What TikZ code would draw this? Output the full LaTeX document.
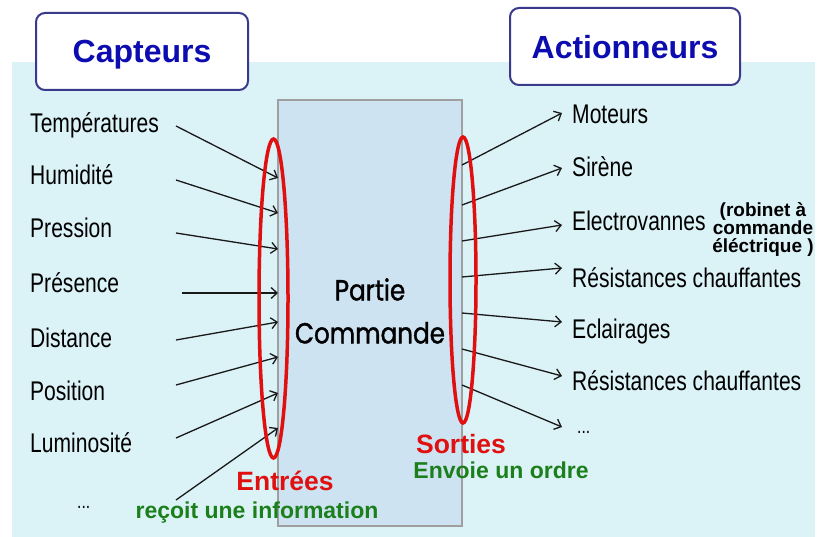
\documentclass[tikz,border=0pt]{standalone}
\usepackage{fontspec}
\setmainfont{Liberation Sans}
\newfontfamily\narrowfont[FakeStretch=0.78]{Liberation Sans}
\newfontfamily\pcfont[FakeStretch=0.85, FakeBold=1.3]{Poppins}
\usetikzlibrary{arrows.meta, positioning}
\definecolor{bgcyan}{HTML}{DBF2F7}
\definecolor{pcblue}{HTML}{CEE3F2}
\definecolor{boxblue}{HTML}{3A3A8C}
\definecolor{titleblue}{HTML}{0C0CB0}
\definecolor{ringred}{HTML}{E01010}
\definecolor{textgreen}{HTML}{1B7F1B}

\begin{document}
\begin{tikzpicture}[x=1pt, y=-1pt, >={Straight Barb[length=6pt,width=11pt]},
  title/.style={draw=boxblue, line width=2pt, rounded corners=9pt, fill=white, text=titleblue, text depth=0pt, font=\bfseries\fontsize{32}{36}\selectfont},
  item/.style={anchor=base west, inner sep=0pt, font=\narrowfont\fontsize{27}{30}\selectfont},
  flow/.style={->, line width=1.3pt, black!90},
  ring/.style={draw=ringred, line width=3.5pt},
  redlbl/.style={anchor=base, inner sep=0pt, text=ringred, font=\bfseries\fontsize{26.5}{30}\selectfont},
  greenlbl/.style={anchor=base, inner sep=0pt, text=textgreen, font=\bfseries\fontsize{23}{26}\selectfont}]

  \useasboundingbox (0,0) rectangle (829,537);
  % background
  \fill[bgcyan] (12,62) rectangle (815,537);

  % titles
  \node[title, minimum width=212pt, minimum height=77pt] (capteurs) at (142,51.5) {Capteurs};
  \node[title, minimum width=230pt, minimum height=77pt] (actionneurs) at (625,46.5) {Actionneurs};

  % partie commande
  \node[draw=gray!75, line width=1.3pt, fill=pcblue, minimum width=184pt, minimum height=426pt] (pc) at (370,313) {};
  \node[align=center, font=\pcfont\fontsize{29}{43}\selectfont] (pctext) at (370,311) {Partie\\Commande};

  % sensors
  \node[item] (temp) at (30,133) {Températures};
  \node[item] (humid) at (30,185) {Humidité};
  \node[item] (press) at (30,237) {Pression};
  \node[item] (presence) at (30,292) {Présence};
  \node[item] (dist) at (30,347) {Distance};
  \node[item] (pos) at (30,400) {Position};
  \node[item] (lum) at (30,452) {Luminosité};
  \node[item, font=\narrowfont\fontsize{20}{24}\selectfont] (indots) at (77,508) {...};

  % actuators
  \node[item] (mot) at (572,124) {Moteurs};
  \node[item] (sir) at (572,177) {Sirène};
  \node[item] (elec) at (572,231) {Electrovannes};
  \node[item] (res1) at (572,287) {Résistances chauffantes};
  \node[item] (ecl) at (572,338) {Eclairages};
  \node[item] (res2) at (572,390) {Résistances chauffantes};
  \node[item, font=\narrowfont\fontsize{20}{24}\selectfont] (outdots) at (577,433) {...};
  \node[align=center, inner sep=0pt, font=\bfseries\fontsize{19}{18}\selectfont] (robinet) at (763,230) {(robinet à\\commande\\éléctrique )};

  % inputs
  \coordinate (a1) at (176,126); \coordinate (b1) at (278,178);
  \coordinate (a2) at (176,180); \coordinate (b2) at (278,213);
  \coordinate (a3) at (176,233); \coordinate (b3) at (278,249);
  \coordinate (a4) at (182,293); \coordinate (b4) at (278,293);
  \coordinate (a5) at (176,340); \coordinate (b5) at (278,322);
  \coordinate (a6) at (176,385); \coordinate (b6) at (278,357);
  \coordinate (a7) at (176,438); \coordinate (b7) at (278,393);
  \coordinate (a8) at (176,500); \coordinate (b8) at (278,428);
  \draw[flow] (a1) -- (b1);
  \draw[flow] (a2) -- (b2);
  \draw[flow] (a3) -- (b3);
  \draw[flow] (a4) -- (b4);
  \draw[flow] (a5) -- (b5);
  \draw[flow] (a6) -- (b6);
  \draw[flow] (a7) -- (b7);
  \draw[flow] (a8) -- (b8);

  % outputs
  \coordinate (c1) at (462,165); \coordinate (d1) at (562,113);
  \coordinate (c2) at (462,205); \coordinate (d2) at (562,168);
  \coordinate (c3) at (462,241); \coordinate (d3) at (562,225);
  \coordinate (c4) at (462,277); \coordinate (d4) at (562,268);
  \coordinate (c5) at (462,313); \coordinate (d5) at (562,322);
  \coordinate (c6) at (462,349); \coordinate (d6) at (562,376);
  \coordinate (c7) at (462,385); \coordinate (d7) at (562,427);
  \draw[flow] (c1) -- (d1);
  \draw[flow] (c2) -- (d2);
  \draw[flow] (c3) -- (d3);
  \draw[flow] (c4) -- (d4);
  \draw[flow] (c5) -- (d5);
  \draw[flow] (c6) -- (d6);
  \draw[flow] (c7) -- (d7);

  % rings
  \draw[ring] (273.5,298.5) ellipse [x radius=14.5pt, y radius=159.5pt];
  \draw[ring] (463,280) ellipse [x radius=13pt, y radius=143pt];

  \node[redlbl] (entrees) at (285,490) {Entrées};
  \node[greenlbl] (recoit) at (257,518) {reçoit une information};
  \node[redlbl] (sorties) at (461,453) {Sorties};
  \node[greenlbl] (envoie) at (501,478) {Envoie un ordre};

\end{tikzpicture}
\end{document}
